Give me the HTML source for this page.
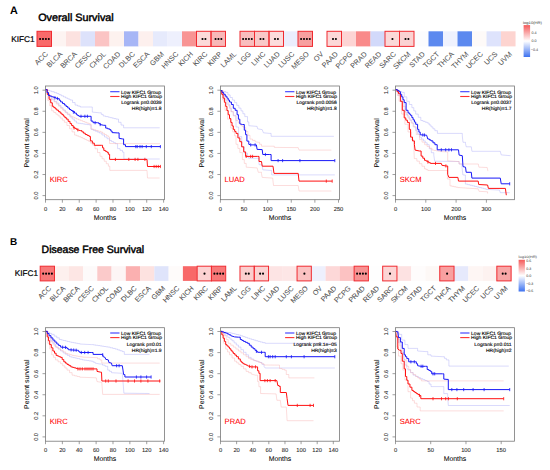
<!DOCTYPE html>
<html><head><meta charset="utf-8"><style>html,body{margin:0;padding:0;background:#fff;width:550px;height:470px;overflow:hidden;position:relative}</style></head><body>
<svg width="550" height="470" viewBox="0 0 550 470" style="position:absolute;left:0;top:0;font-family:'Liberation Sans', sans-serif" text-rendering="geometricPrecision">
<rect width="550" height="470" fill="#fff"/>
<defs><linearGradient id="gA" x1="0" y1="0" x2="0" y2="1"><stop offset="0" stop-color="#f55a5a"/><stop offset="0.5" stop-color="#ffffff"/><stop offset="1" stop-color="#3d72f0"/></linearGradient></defs>
<text x="10" y="14" font-size="10.8" fill="#000" text-anchor="start" font-weight="bold" >A</text>
<text x="38.2" y="20.9" font-size="10.6" fill="#000" text-anchor="start" font-weight="normal" textLength="75.5" lengthAdjust="spacingAndGlyphs" stroke="#000" stroke-width="0.45">Overall Survival</text>
<text x="11.2" y="41.7" font-size="8.3" fill="#000" text-anchor="start" font-weight="normal" stroke="#000" stroke-width="0.2">KIFC1</text>
<rect x="37" y="31.3" width="14.55" height="15.1" fill="#f96a6a"/>
<rect x="51.5" y="31.3" width="14.55" height="15.1" fill="#fdf4f2"/>
<rect x="66" y="31.3" width="14.55" height="15.1" fill="#fce2e0"/>
<rect x="80.5" y="31.3" width="14.55" height="15.1" fill="#dde2fb"/>
<rect x="95" y="31.3" width="14.55" height="15.1" fill="#fbc4c4"/>
<rect x="109.5" y="31.3" width="14.55" height="15.1" fill="#fdf2ef"/>
<rect x="124" y="31.3" width="14.55" height="15.1" fill="#a7b6f6"/>
<rect x="138.5" y="31.3" width="14.55" height="15.1" fill="#fdf0ee"/>
<rect x="153" y="31.3" width="14.55" height="15.1" fill="#e6eafc"/>
<rect x="167.5" y="31.3" width="14.55" height="15.1" fill="#eef0fd"/>
<rect x="182" y="31.3" width="14.55" height="15.1" fill="#f89494"/>
<rect x="196.5" y="31.3" width="14.55" height="15.1" fill="#fcdada"/>
<rect x="211" y="31.3" width="14.55" height="15.1" fill="#f8b8b8"/>
<rect x="225.5" y="31.3" width="14.55" height="15.1" fill="#ffffff"/>
<rect x="240" y="31.3" width="14.55" height="15.1" fill="#f9bebe"/>
<rect x="254.5" y="31.3" width="14.55" height="15.1" fill="#f9c8c8"/>
<rect x="269" y="31.3" width="14.55" height="15.1" fill="#fcdcdc"/>
<rect x="283.5" y="31.3" width="14.55" height="15.1" fill="#ebeefd"/>
<rect x="298" y="31.3" width="14.55" height="15.1" fill="#f7a0a0"/>
<rect x="312.5" y="31.3" width="14.55" height="15.1" fill="#ffffff"/>
<rect x="327" y="31.3" width="14.55" height="15.1" fill="#fcd8d8"/>
<rect x="341.5" y="31.3" width="14.55" height="15.1" fill="#fdd4d4"/>
<rect x="356" y="31.3" width="14.55" height="15.1" fill="#f98a8a"/>
<rect x="370.5" y="31.3" width="14.55" height="15.1" fill="#d2d9fa"/>
<rect x="385" y="31.3" width="14.55" height="15.1" fill="#fbd8d8"/>
<rect x="399.5" y="31.3" width="14.55" height="15.1" fill="#fbd2d2"/>
<rect x="414" y="31.3" width="14.55" height="15.1" fill="#fbfcfe"/>
<rect x="428.5" y="31.3" width="14.55" height="15.1" fill="#5c89ef"/>
<rect x="443" y="31.3" width="14.55" height="15.1" fill="#eff2fe"/>
<rect x="457.5" y="31.3" width="14.55" height="15.1" fill="#5c89ef"/>
<rect x="472" y="31.3" width="14.55" height="15.1" fill="#fefaf8"/>
<rect x="486.5" y="31.3" width="14.55" height="15.1" fill="#dee3fc"/>
<rect x="501" y="31.3" width="14.55" height="15.1" fill="#fdd4d0"/>
<rect x="37" y="31.3" width="14.5" height="15.1" fill="none" stroke="#f02a30" stroke-width="1.0"/>
<circle cx="40.1" cy="38.95" r="1.05" fill="#000"/>
<circle cx="43" cy="38.95" r="1.05" fill="#000"/>
<circle cx="45.9" cy="38.95" r="1.05" fill="#000"/>
<circle cx="48.8" cy="38.95" r="1.05" fill="#000"/>
<rect x="196.5" y="31.3" width="14.5" height="15.1" fill="none" stroke="#f02a30" stroke-width="1.0"/>
<circle cx="202.5" cy="38.95" r="1.05" fill="#000"/>
<circle cx="205.4" cy="38.95" r="1.05" fill="#000"/>
<rect x="211" y="31.3" width="14.5" height="15.1" fill="none" stroke="#f02a30" stroke-width="1.0"/>
<circle cx="215.55" cy="38.95" r="1.05" fill="#000"/>
<circle cx="218.45" cy="38.95" r="1.05" fill="#000"/>
<circle cx="221.35" cy="38.95" r="1.05" fill="#000"/>
<rect x="240" y="31.3" width="14.5" height="15.1" fill="none" stroke="#f02a30" stroke-width="1.0"/>
<circle cx="243.1" cy="38.95" r="1.05" fill="#000"/>
<circle cx="246" cy="38.95" r="1.05" fill="#000"/>
<circle cx="248.9" cy="38.95" r="1.05" fill="#000"/>
<circle cx="251.8" cy="38.95" r="1.05" fill="#000"/>
<rect x="254.5" y="31.3" width="14.5" height="15.1" fill="none" stroke="#f02a30" stroke-width="1.0"/>
<circle cx="260.5" cy="38.95" r="1.05" fill="#000"/>
<circle cx="263.4" cy="38.95" r="1.05" fill="#000"/>
<rect x="269" y="31.3" width="14.5" height="15.1" fill="none" stroke="#f02a30" stroke-width="1.0"/>
<circle cx="275" cy="38.95" r="1.05" fill="#000"/>
<circle cx="277.9" cy="38.95" r="1.05" fill="#000"/>
<rect x="298" y="31.3" width="14.5" height="15.1" fill="none" stroke="#f02a30" stroke-width="1.0"/>
<circle cx="301.1" cy="38.95" r="1.05" fill="#000"/>
<circle cx="304" cy="38.95" r="1.05" fill="#000"/>
<circle cx="306.9" cy="38.95" r="1.05" fill="#000"/>
<circle cx="309.8" cy="38.95" r="1.05" fill="#000"/>
<rect x="327" y="31.3" width="14.5" height="15.1" fill="none" stroke="#f02a30" stroke-width="1.0"/>
<circle cx="333" cy="38.95" r="1.05" fill="#000"/>
<circle cx="335.9" cy="38.95" r="1.05" fill="#000"/>
<rect x="385" y="31.3" width="14.5" height="15.1" fill="none" stroke="#f02a30" stroke-width="1.0"/>
<circle cx="392.45" cy="38.95" r="1.05" fill="#000"/>
<rect x="399.5" y="31.3" width="14.5" height="15.1" fill="none" stroke="#f02a30" stroke-width="1.0"/>
<circle cx="405.5" cy="38.95" r="1.05" fill="#000"/>
<circle cx="408.4" cy="38.95" r="1.05" fill="#000"/>
<text x="48.45" y="54.6" font-size="7.25" fill="#505050" stroke="#505050" stroke-width="0.06" text-anchor="end" transform="rotate(-45 48.45 54.6)">ACC</text>
<text x="62.95" y="54.6" font-size="7.25" fill="#505050" stroke="#505050" stroke-width="0.06" text-anchor="end" transform="rotate(-45 62.95 54.6)">BLCA</text>
<text x="77.45" y="54.6" font-size="7.25" fill="#505050" stroke="#505050" stroke-width="0.06" text-anchor="end" transform="rotate(-45 77.45 54.6)">BRCA</text>
<text x="91.95" y="54.6" font-size="7.25" fill="#505050" stroke="#505050" stroke-width="0.06" text-anchor="end" transform="rotate(-45 91.95 54.6)">CESC</text>
<text x="106.45" y="54.6" font-size="7.25" fill="#505050" stroke="#505050" stroke-width="0.06" text-anchor="end" transform="rotate(-45 106.45 54.6)">CHOL</text>
<text x="120.95" y="54.6" font-size="7.25" fill="#505050" stroke="#505050" stroke-width="0.06" text-anchor="end" transform="rotate(-45 120.95 54.6)">COAD</text>
<text x="135.45" y="54.6" font-size="7.25" fill="#505050" stroke="#505050" stroke-width="0.06" text-anchor="end" transform="rotate(-45 135.45 54.6)">DLBC</text>
<text x="149.95" y="54.6" font-size="7.25" fill="#505050" stroke="#505050" stroke-width="0.06" text-anchor="end" transform="rotate(-45 149.95 54.6)">ESCA</text>
<text x="164.45" y="54.6" font-size="7.25" fill="#505050" stroke="#505050" stroke-width="0.06" text-anchor="end" transform="rotate(-45 164.45 54.6)">GBM</text>
<text x="178.95" y="54.6" font-size="7.25" fill="#505050" stroke="#505050" stroke-width="0.06" text-anchor="end" transform="rotate(-45 178.95 54.6)">HNSC</text>
<text x="193.45" y="54.6" font-size="7.25" fill="#505050" stroke="#505050" stroke-width="0.06" text-anchor="end" transform="rotate(-45 193.45 54.6)">KICH</text>
<text x="207.95" y="54.6" font-size="7.25" fill="#505050" stroke="#505050" stroke-width="0.06" text-anchor="end" transform="rotate(-45 207.95 54.6)">KIRC</text>
<text x="222.45" y="54.6" font-size="7.25" fill="#505050" stroke="#505050" stroke-width="0.06" text-anchor="end" transform="rotate(-45 222.45 54.6)">KIRP</text>
<text x="236.95" y="54.6" font-size="7.25" fill="#505050" stroke="#505050" stroke-width="0.06" text-anchor="end" transform="rotate(-45 236.95 54.6)">LAML</text>
<text x="251.45" y="54.6" font-size="7.25" fill="#505050" stroke="#505050" stroke-width="0.06" text-anchor="end" transform="rotate(-45 251.45 54.6)">LGG</text>
<text x="265.95" y="54.6" font-size="7.25" fill="#505050" stroke="#505050" stroke-width="0.06" text-anchor="end" transform="rotate(-45 265.95 54.6)">LIHC</text>
<text x="280.45" y="54.6" font-size="7.25" fill="#505050" stroke="#505050" stroke-width="0.06" text-anchor="end" transform="rotate(-45 280.45 54.6)">LUAD</text>
<text x="294.95" y="54.6" font-size="7.25" fill="#505050" stroke="#505050" stroke-width="0.06" text-anchor="end" transform="rotate(-45 294.95 54.6)">LUSC</text>
<text x="309.45" y="54.6" font-size="7.25" fill="#505050" stroke="#505050" stroke-width="0.06" text-anchor="end" transform="rotate(-45 309.45 54.6)">MESO</text>
<text x="323.95" y="54.6" font-size="7.25" fill="#505050" stroke="#505050" stroke-width="0.06" text-anchor="end" transform="rotate(-45 323.95 54.6)">OV</text>
<text x="338.45" y="54.6" font-size="7.25" fill="#505050" stroke="#505050" stroke-width="0.06" text-anchor="end" transform="rotate(-45 338.45 54.6)">PAAD</text>
<text x="352.95" y="54.6" font-size="7.25" fill="#505050" stroke="#505050" stroke-width="0.06" text-anchor="end" transform="rotate(-45 352.95 54.6)">PCPG</text>
<text x="367.45" y="54.6" font-size="7.25" fill="#505050" stroke="#505050" stroke-width="0.06" text-anchor="end" transform="rotate(-45 367.45 54.6)">PRAD</text>
<text x="381.95" y="54.6" font-size="7.25" fill="#505050" stroke="#505050" stroke-width="0.06" text-anchor="end" transform="rotate(-45 381.95 54.6)">READ</text>
<text x="396.45" y="54.6" font-size="7.25" fill="#505050" stroke="#505050" stroke-width="0.06" text-anchor="end" transform="rotate(-45 396.45 54.6)">SARC</text>
<text x="410.95" y="54.6" font-size="7.25" fill="#505050" stroke="#505050" stroke-width="0.06" text-anchor="end" transform="rotate(-45 410.95 54.6)">SKCM</text>
<text x="425.45" y="54.6" font-size="7.25" fill="#505050" stroke="#505050" stroke-width="0.06" text-anchor="end" transform="rotate(-45 425.45 54.6)">STAD</text>
<text x="439.95" y="54.6" font-size="7.25" fill="#505050" stroke="#505050" stroke-width="0.06" text-anchor="end" transform="rotate(-45 439.95 54.6)">TGCT</text>
<text x="454.45" y="54.6" font-size="7.25" fill="#505050" stroke="#505050" stroke-width="0.06" text-anchor="end" transform="rotate(-45 454.45 54.6)">THCA</text>
<text x="468.95" y="54.6" font-size="7.25" fill="#505050" stroke="#505050" stroke-width="0.06" text-anchor="end" transform="rotate(-45 468.95 54.6)">THYM</text>
<text x="483.45" y="54.6" font-size="7.25" fill="#505050" stroke="#505050" stroke-width="0.06" text-anchor="end" transform="rotate(-45 483.45 54.6)">UCEC</text>
<text x="497.95" y="54.6" font-size="7.25" fill="#505050" stroke="#505050" stroke-width="0.06" text-anchor="end" transform="rotate(-45 497.95 54.6)">UCS</text>
<text x="512.45" y="54.6" font-size="7.25" fill="#505050" stroke="#505050" stroke-width="0.06" text-anchor="end" transform="rotate(-45 512.45 54.6)">UVM</text>
<rect x="523.6" y="25.1" width="6.5" height="31.9" fill="url(#gA)"/>
<text x="523" y="23.8" font-size="3.6" fill="#333" text-anchor="start" font-weight="normal" textLength="19" lengthAdjust="spacingAndGlyphs" >log10(HR)</text>
<text x="531.5" y="33.9" font-size="3.7" fill="#333" text-anchor="start" font-weight="normal" >0.4</text>
<text x="531.5" y="42.3" font-size="3.7" fill="#333" text-anchor="start" font-weight="normal" >0.0</text>
<text x="530.8" y="51.2" font-size="3.7" fill="#333" text-anchor="start" font-weight="normal" >&#8722;0.4</text>
<text x="10.1" y="245.2" font-size="10" fill="#000" text-anchor="start" font-weight="bold" >B</text>
<text x="41.6" y="252.6" font-size="10.6" fill="#000" text-anchor="start" font-weight="normal" textLength="102.5" lengthAdjust="spacingAndGlyphs" stroke="#000" stroke-width="0.45">Disease Free Survival</text>
<text x="14.8" y="276.4" font-size="8.2" fill="#000" text-anchor="start" font-weight="normal" stroke="#000" stroke-width="0.2">KIFC1</text>
<rect x="40.2" y="266.2" width="14.32" height="14.7" fill="#f87878"/>
<rect x="54.47" y="266.2" width="14.32" height="14.7" fill="#fdf0ee"/>
<rect x="68.74" y="266.2" width="14.32" height="14.7" fill="#fde6e4"/>
<rect x="83.01" y="266.2" width="14.32" height="14.7" fill="#fdfafa"/>
<rect x="97.28" y="266.2" width="14.32" height="14.7" fill="#fbcaca"/>
<rect x="111.55" y="266.2" width="14.32" height="14.7" fill="#fdf5f5"/>
<rect x="125.82" y="266.2" width="14.32" height="14.7" fill="#fbb0b0"/>
<rect x="140.09" y="266.2" width="14.32" height="14.7" fill="#fde2e0"/>
<rect x="154.36" y="266.2" width="14.32" height="14.7" fill="#dfe4fb"/>
<rect x="168.63" y="266.2" width="14.32" height="14.7" fill="#fefbfa"/>
<rect x="182.9" y="266.2" width="14.32" height="14.7" fill="#f86868"/>
<rect x="197.17" y="266.2" width="14.32" height="14.7" fill="#fcd2d2"/>
<rect x="211.44" y="266.2" width="14.32" height="14.7" fill="#f87878"/>
<rect x="225.71" y="266.2" width="14.32" height="14.7" fill="#ffffff"/>
<rect x="239.98" y="266.2" width="14.32" height="14.7" fill="#fbcece"/>
<rect x="254.25" y="266.2" width="14.32" height="14.7" fill="#fbd2d2"/>
<rect x="268.52" y="266.2" width="14.32" height="14.7" fill="#fde4e4"/>
<rect x="282.79" y="266.2" width="14.32" height="14.7" fill="#fde6e6"/>
<rect x="297.06" y="266.2" width="14.32" height="14.7" fill="#fbc2c2"/>
<rect x="311.33" y="266.2" width="14.32" height="14.7" fill="#eef0fd"/>
<rect x="325.6" y="266.2" width="14.32" height="14.7" fill="#fdd8d8"/>
<rect x="339.87" y="266.2" width="14.32" height="14.7" fill="#fcc2c2"/>
<rect x="354.14" y="266.2" width="14.32" height="14.7" fill="#f79292"/>
<rect x="368.41" y="266.2" width="14.32" height="14.7" fill="#fefefe"/>
<rect x="382.68" y="266.2" width="14.32" height="14.7" fill="#fcd4d4"/>
<rect x="396.95" y="266.2" width="14.32" height="14.7" fill="#fde2e2"/>
<rect x="411.22" y="266.2" width="14.32" height="14.7" fill="#fefcfc"/>
<rect x="425.49" y="266.2" width="14.32" height="14.7" fill="#fdf8f6"/>
<rect x="439.76" y="266.2" width="14.32" height="14.7" fill="#f8a0a0"/>
<rect x="454.03" y="266.2" width="14.32" height="14.7" fill="#e6e9fc"/>
<rect x="468.3" y="266.2" width="14.32" height="14.7" fill="#fef6f4"/>
<rect x="482.57" y="266.2" width="14.32" height="14.7" fill="#fdf2f0"/>
<rect x="496.84" y="266.2" width="14.32" height="14.7" fill="#f8a6a6"/>
<rect x="40.2" y="266.2" width="14.27" height="14.7" fill="none" stroke="#f02a30" stroke-width="1.0"/>
<circle cx="43.19" cy="273.65" r="1.05" fill="#000"/>
<circle cx="46.09" cy="273.65" r="1.05" fill="#000"/>
<circle cx="48.99" cy="273.65" r="1.05" fill="#000"/>
<circle cx="51.89" cy="273.65" r="1.05" fill="#000"/>
<rect x="197.17" y="266.2" width="14.27" height="14.7" fill="none" stroke="#f02a30" stroke-width="1.0"/>
<circle cx="204.5" cy="273.65" r="1.05" fill="#000"/>
<rect x="211.44" y="266.2" width="14.27" height="14.7" fill="none" stroke="#f02a30" stroke-width="1.0"/>
<circle cx="214.42" cy="273.65" r="1.05" fill="#000"/>
<circle cx="217.32" cy="273.65" r="1.05" fill="#000"/>
<circle cx="220.22" cy="273.65" r="1.05" fill="#000"/>
<circle cx="223.12" cy="273.65" r="1.05" fill="#000"/>
<rect x="239.98" y="266.2" width="14.27" height="14.7" fill="none" stroke="#f02a30" stroke-width="1.0"/>
<circle cx="245.87" cy="273.65" r="1.05" fill="#000"/>
<circle cx="248.76" cy="273.65" r="1.05" fill="#000"/>
<rect x="254.25" y="266.2" width="14.27" height="14.7" fill="none" stroke="#f02a30" stroke-width="1.0"/>
<circle cx="260.13" cy="273.65" r="1.05" fill="#000"/>
<circle cx="263.03" cy="273.65" r="1.05" fill="#000"/>
<rect x="297.06" y="266.2" width="14.27" height="14.7" fill="none" stroke="#f02a30" stroke-width="1.0"/>
<circle cx="304.39" cy="273.65" r="1.05" fill="#000"/>
<rect x="354.14" y="266.2" width="14.27" height="14.7" fill="none" stroke="#f02a30" stroke-width="1.0"/>
<circle cx="357.12" cy="273.65" r="1.05" fill="#000"/>
<circle cx="360.02" cy="273.65" r="1.05" fill="#000"/>
<circle cx="362.92" cy="273.65" r="1.05" fill="#000"/>
<circle cx="365.82" cy="273.65" r="1.05" fill="#000"/>
<rect x="382.68" y="266.2" width="14.27" height="14.7" fill="none" stroke="#f02a30" stroke-width="1.0"/>
<circle cx="390.01" cy="273.65" r="1.05" fill="#000"/>
<rect x="439.76" y="266.2" width="14.27" height="14.7" fill="none" stroke="#f02a30" stroke-width="1.0"/>
<circle cx="447.09" cy="273.65" r="1.05" fill="#000"/>
<rect x="496.84" y="266.2" width="14.27" height="14.7" fill="none" stroke="#f02a30" stroke-width="1.0"/>
<circle cx="502.72" cy="273.65" r="1.05" fill="#000"/>
<circle cx="505.62" cy="273.65" r="1.05" fill="#000"/>
<text x="51.54" y="288.8" font-size="7.1" fill="#505050" stroke="#505050" stroke-width="0.06" text-anchor="end" transform="rotate(-45 51.54 288.8)">ACC</text>
<text x="65.8" y="288.8" font-size="7.1" fill="#505050" stroke="#505050" stroke-width="0.06" text-anchor="end" transform="rotate(-45 65.8 288.8)">BLCA</text>
<text x="80.08" y="288.8" font-size="7.1" fill="#505050" stroke="#505050" stroke-width="0.06" text-anchor="end" transform="rotate(-45 80.08 288.8)">BRCA</text>
<text x="94.35" y="288.8" font-size="7.1" fill="#505050" stroke="#505050" stroke-width="0.06" text-anchor="end" transform="rotate(-45 94.35 288.8)">CESC</text>
<text x="108.62" y="288.8" font-size="7.1" fill="#505050" stroke="#505050" stroke-width="0.06" text-anchor="end" transform="rotate(-45 108.62 288.8)">CHOL</text>
<text x="122.89" y="288.8" font-size="7.1" fill="#505050" stroke="#505050" stroke-width="0.06" text-anchor="end" transform="rotate(-45 122.89 288.8)">COAD</text>
<text x="137.16" y="288.8" font-size="7.1" fill="#505050" stroke="#505050" stroke-width="0.06" text-anchor="end" transform="rotate(-45 137.16 288.8)">DLBC</text>
<text x="151.42" y="288.8" font-size="7.1" fill="#505050" stroke="#505050" stroke-width="0.06" text-anchor="end" transform="rotate(-45 151.42 288.8)">ESCA</text>
<text x="165.69" y="288.8" font-size="7.1" fill="#505050" stroke="#505050" stroke-width="0.06" text-anchor="end" transform="rotate(-45 165.69 288.8)">GBM</text>
<text x="179.96" y="288.8" font-size="7.1" fill="#505050" stroke="#505050" stroke-width="0.06" text-anchor="end" transform="rotate(-45 179.96 288.8)">HNSC</text>
<text x="194.23" y="288.8" font-size="7.1" fill="#505050" stroke="#505050" stroke-width="0.06" text-anchor="end" transform="rotate(-45 194.23 288.8)">KICH</text>
<text x="208.5" y="288.8" font-size="7.1" fill="#505050" stroke="#505050" stroke-width="0.06" text-anchor="end" transform="rotate(-45 208.5 288.8)">KIRC</text>
<text x="222.77" y="288.8" font-size="7.1" fill="#505050" stroke="#505050" stroke-width="0.06" text-anchor="end" transform="rotate(-45 222.77 288.8)">KIRP</text>
<text x="237.04" y="288.8" font-size="7.1" fill="#505050" stroke="#505050" stroke-width="0.06" text-anchor="end" transform="rotate(-45 237.04 288.8)">LAML</text>
<text x="251.31" y="288.8" font-size="7.1" fill="#505050" stroke="#505050" stroke-width="0.06" text-anchor="end" transform="rotate(-45 251.31 288.8)">LGG</text>
<text x="265.58" y="288.8" font-size="7.1" fill="#505050" stroke="#505050" stroke-width="0.06" text-anchor="end" transform="rotate(-45 265.58 288.8)">LIHC</text>
<text x="279.85" y="288.8" font-size="7.1" fill="#505050" stroke="#505050" stroke-width="0.06" text-anchor="end" transform="rotate(-45 279.85 288.8)">LUAD</text>
<text x="294.12" y="288.8" font-size="7.1" fill="#505050" stroke="#505050" stroke-width="0.06" text-anchor="end" transform="rotate(-45 294.12 288.8)">LUSC</text>
<text x="308.39" y="288.8" font-size="7.1" fill="#505050" stroke="#505050" stroke-width="0.06" text-anchor="end" transform="rotate(-45 308.39 288.8)">MESO</text>
<text x="322.66" y="288.8" font-size="7.1" fill="#505050" stroke="#505050" stroke-width="0.06" text-anchor="end" transform="rotate(-45 322.66 288.8)">OV</text>
<text x="336.93" y="288.8" font-size="7.1" fill="#505050" stroke="#505050" stroke-width="0.06" text-anchor="end" transform="rotate(-45 336.93 288.8)">PAAD</text>
<text x="351.2" y="288.8" font-size="7.1" fill="#505050" stroke="#505050" stroke-width="0.06" text-anchor="end" transform="rotate(-45 351.2 288.8)">PCPG</text>
<text x="365.47" y="288.8" font-size="7.1" fill="#505050" stroke="#505050" stroke-width="0.06" text-anchor="end" transform="rotate(-45 365.47 288.8)">PRAD</text>
<text x="379.74" y="288.8" font-size="7.1" fill="#505050" stroke="#505050" stroke-width="0.06" text-anchor="end" transform="rotate(-45 379.74 288.8)">READ</text>
<text x="394.01" y="288.8" font-size="7.1" fill="#505050" stroke="#505050" stroke-width="0.06" text-anchor="end" transform="rotate(-45 394.01 288.8)">SARC</text>
<text x="408.28" y="288.8" font-size="7.1" fill="#505050" stroke="#505050" stroke-width="0.06" text-anchor="end" transform="rotate(-45 408.28 288.8)">SKCM</text>
<text x="422.55" y="288.8" font-size="7.1" fill="#505050" stroke="#505050" stroke-width="0.06" text-anchor="end" transform="rotate(-45 422.55 288.8)">STAD</text>
<text x="436.82" y="288.8" font-size="7.1" fill="#505050" stroke="#505050" stroke-width="0.06" text-anchor="end" transform="rotate(-45 436.82 288.8)">TGCT</text>
<text x="451.09" y="288.8" font-size="7.1" fill="#505050" stroke="#505050" stroke-width="0.06" text-anchor="end" transform="rotate(-45 451.09 288.8)">THCA</text>
<text x="465.36" y="288.8" font-size="7.1" fill="#505050" stroke="#505050" stroke-width="0.06" text-anchor="end" transform="rotate(-45 465.36 288.8)">THYM</text>
<text x="479.63" y="288.8" font-size="7.1" fill="#505050" stroke="#505050" stroke-width="0.06" text-anchor="end" transform="rotate(-45 479.63 288.8)">UCEC</text>
<text x="493.9" y="288.8" font-size="7.1" fill="#505050" stroke="#505050" stroke-width="0.06" text-anchor="end" transform="rotate(-45 493.9 288.8)">UCS</text>
<text x="508.17" y="288.8" font-size="7.1" fill="#505050" stroke="#505050" stroke-width="0.06" text-anchor="end" transform="rotate(-45 508.17 288.8)">UVM</text>
<rect x="518.6" y="259.8" width="6.3" height="31.7" fill="url(#gA)"/>
<text x="518.6" y="258.2" font-size="3.4" fill="#333" text-anchor="start" font-weight="normal" textLength="18.3" lengthAdjust="spacingAndGlyphs" >log10(HR)</text>
<text x="526.2" y="262.2" font-size="3.6" fill="#333" text-anchor="start" font-weight="normal" >0.6</text>
<text x="526.2" y="269.6" font-size="3.6" fill="#333" text-anchor="start" font-weight="normal" >0.3</text>
<text x="526.2" y="277.2" font-size="3.6" fill="#333" text-anchor="start" font-weight="normal" >0.0</text>
<text x="526.2" y="284.6" font-size="3.6" fill="#333" text-anchor="start" font-weight="normal" >&#8722;0.3</text>
<text x="526.2" y="292.2" font-size="3.6" fill="#333" text-anchor="start" font-weight="normal" >&#8722;0.6</text>
<polyline points="45.5,89.6 47.57,89.6 47.57,90.3 49.63,90.3 49.63,91 51.7,91 51.7,91.7 54.25,91.7 54.25,92.65 56.8,92.65 56.8,93.6 59.02,93.6 59.02,94.7 61.25,94.7 61.25,95.8 63.48,95.8 63.48,96.9 65.7,96.9 65.7,98 67.85,98 67.85,99 70,99 70,100 72.55,100 72.55,102.55 75.1,102.55 75.1,105.1 77.65,105.1 77.65,106.05 80.2,106.05 80.2,107 89.1,107 92.3,107 92.3,112.1 99.4,112.8 101.3,112.8 101.3,114.4 103.2,114.4 103.2,116 105.75,116 105.75,116.6 108.3,116.6 108.3,117.2 110.22,117.2 110.22,117.67 112.15,117.67 112.15,118.15 114.08,118.15 114.08,118.62 116,118.62 116,119.1 118.5,119.1 118.5,122.3 121.05,122.3 121.05,125.05 123.6,125.05 123.6,127.8 159.7,127.8" fill="none" stroke="#aaaaf8" stroke-width="0.55" stroke-opacity="0.8"/>
<polyline points="45.5,89.6 47.3,89.6 47.3,93.8 49.1,93.8 49.1,98 51.67,98 51.67,99.7 54.23,99.7 54.23,101.4 56.8,101.4 56.8,103.1 58.9,103.1 58.9,105.4 61,105.4 61,107.7 63.1,107.7 63.1,110 65.4,110 65.4,112.33 67.7,112.33 67.7,114.67 70,114.67 70,117 72.13,117 72.13,119 74.27,119 74.27,121 76.4,121 76.4,123 78.52,123 78.52,123.32 80.63,123.32 80.63,123.63 82.75,123.63 82.75,123.95 84.87,123.95 84.87,124.27 86.98,124.27 86.98,124.58 89.1,124.58 89.1,124.9 91.1,124.9 91.1,129.4 93.17,129.4 93.17,130.3 95.25,130.3 95.25,131.2 97.33,131.2 97.33,132.1 99.4,132.1 99.4,133 101.95,133 101.95,135 104.5,135 104.5,137 107.05,137 107.05,138.75 109.6,138.75 109.6,140.5 111.53,140.5 111.53,141.57 113.47,141.57 113.47,142.63 115.4,142.63 115.4,143.7 117.6,143.7 117.6,148.6 120.05,148.6 120.05,150.35 122.5,150.35 122.5,152.1 123.9,152.1 123.9,159 159.7,159" fill="none" stroke="#aaaaf8" stroke-width="0.55" stroke-opacity="0.8"/>
<polyline points="45.5,89.6 47.3,89.6 47.3,92.55 49.1,92.55 49.1,95.5 51.65,95.5 51.65,98.7 54.2,98.7 54.2,101.9 56.33,101.9 56.33,104.03 58.47,104.03 58.47,106.17 60.6,106.17 60.6,108.3 62.73,108.3 62.73,110.2 64.87,110.2 64.87,112.1 67,112.1 67,114 70,114 70,116 72.13,116 72.13,117 74.27,117 74.27,118 76.4,118 76.4,119 78.52,119 78.52,119.83 80.63,119.83 80.63,120.67 82.75,120.67 82.75,121.5 84.87,121.5 84.87,122.33 86.98,122.33 86.98,123.17 89.1,123.17 89.1,124 91,124 91,129 93.4,129 93.4,129.75 95.8,129.75 95.8,130.5 98.2,130.5 98.2,131.25 100.6,131.25 100.6,132 102.52,132 102.52,133.25 104.45,133.25 104.45,134.5 106.38,134.5 106.38,135.75 108.3,135.75 108.3,137 109.6,137 109.6,143.5 160,143.7" fill="none" stroke="#f8b0b0" stroke-width="0.55" stroke-opacity="0.8"/>
<polyline points="45.5,89.6 47.8,89.6 47.8,100.6 49.75,100.6 49.75,105.7 51.7,105.7 51.7,110.8 53.8,110.8 53.8,112.5 55.9,112.5 55.9,114.2 58,114.2 58,115.9 60.13,115.9 60.13,118.03 62.27,118.03 62.27,120.17 64.4,120.17 64.4,122.3 66.95,122.3 66.95,125.5 69.5,125.5 69.5,128.7 72.05,128.7 72.05,131.9 74.6,131.9 74.6,135.1 76.73,135.1 76.73,135.93 78.87,135.93 78.87,136.77 81,136.77 81,137.6 82.92,137.6 82.92,138.55 84.85,138.55 84.85,139.5 86.78,139.5 86.78,140.45 88.7,140.45 88.7,141.4 90.6,141.4 90.6,143.2 92.5,143.2 92.5,145 95,145 95,148.77 97.5,148.77 97.5,152.53 100,152.53 100,156.3 102.1,156.3 102.1,158.78 104.2,158.78 104.2,161.25 106.3,161.25 106.3,163.72 108.4,163.72 108.4,166.2 109.8,166.2 109.8,170.4 147,170.4 147.5,178 159.6,178" fill="none" stroke="#f8b0b0" stroke-width="0.55" stroke-opacity="0.8"/>
<polyline points="45.5,89.6 47.3,89.6 47.3,94.45 49.1,94.45 49.1,99.3 50.7,99.3 50.7,102.8 52.3,102.8 52.3,106.3 53.8,106.3 53.8,107.6 55.3,107.6 55.3,108.9 56.8,108.9 56.8,110.2 58.5,110.2 58.5,111.67 60.2,111.67 60.2,113.13 61.9,113.13 61.9,114.6 63.37,114.6 63.37,116.1 64.83,116.1 64.83,117.6 66.3,117.6 66.3,119.1 68.15,119.1 68.15,121.35 70,121.35 70,123.6 71.6,123.6 71.6,125.5 73.2,125.5 73.2,127.4 74.8,127.4 74.8,128.4 76.4,128.4 76.4,129.4 80.2,130.6 81.9,130.6 81.9,131.9 83.6,131.9 83.6,133.2 85.3,133.2 85.3,134.5 87.2,134.5 87.2,135.45 89.1,135.45 89.1,136.4 90.4,136.4 90.4,140.9 92.35,140.9 92.35,143.1 94.3,143.1 94.3,145.3 101.3,145.3 102.55,145.3 102.55,147.85 103.8,147.85 103.8,150.4 105.4,150.4 105.4,151.35 107,151.35 107,152.3 108.3,152.3 108.3,154.25 109.6,154.25 109.6,156.2 109.6,159.4 147,159.4 147.5,166.5 160.4,166.5" fill="none" stroke="#ff1010" stroke-width="1.0"/>
<polyline points="45.5,89.6 47,89.6 47,92.55 48.5,92.55 48.5,95.5 50.1,95.5 50.1,96.15 51.7,96.15 51.7,96.8 53.6,96.8 53.6,97.4 55.5,97.4 55.5,98 58,98.7 59.3,98.7 59.3,100.3 60.6,100.3 60.6,101.9 62.5,101.9 62.5,103.45 64.4,103.45 64.4,105 66.1,105 66.1,106.5 67.8,106.5 67.8,108 69.5,108 69.5,109.5 71.05,109.5 71.05,110.5 72.6,110.5 72.6,111.5 74.5,111.5 74.5,113.1 76.4,113.1 76.4,114.7 77.65,114.7 77.65,115.5 78.9,115.5 78.9,116.3 89.1,116.3 91.1,116.3 91.1,121.1 93,121.1 93,122.7 97.4,122.7 98.7,122.7 98.7,123.6 100,123.6 100,124.5 103.8,125.3 105.7,125.3 105.7,128.1 107.65,128.1 107.65,128.85 109.6,128.85 109.6,129.6 110.85,129.6 110.85,131.1 112.1,131.1 112.1,132.6 117.2,132.9 119.1,132.9 119.1,138.3 122.3,138.9 123.6,138.9 123.6,144.7 125.5,144.7 125.5,146.6 160.4,146.6" fill="none" stroke="#1818f8" stroke-width="1.0"/>
<path d="M74 126.3v3.2M77.8 128.24v3.2M115.4 157.8v3.2M128.8 157.8v3.2M135.1 157.8v3.2M137.9 157.8v3.2M144.9 157.8v3.2M154.1 164.9v3.2M156.2 164.9v3.2M158.3 164.9v3.2M160.4 164.9v3.2" stroke="#ff1010" stroke-width="0.8" fill="none"/>
<path d="M54.9 96.21v3.2M57.4 96.93v3.2M73.4 110.57v3.2M81 114.7v3.2M84.9 114.7v3.2M87.4 114.7v3.2M95.1 121.1v3.2M100.2 122.94v3.2M135.8 145v3.2M137.2 145v3.2M140 145v3.2M142.1 145v3.2M146.3 145v3.2M151.3 145v3.2M160.4 145v3.2" stroke="#1818f8" stroke-width="0.8" fill="none"/>
<rect x="45.5" y="86" width="118.9" height="113.7" fill="none" stroke="#777" stroke-width="0.8"/>
<line x1="42.5" y1="195.6" x2="45.5" y2="195.6" stroke="#777" stroke-width="0.7"/>
<text x="38.3" y="195.6" font-size="5.7" fill="#222" stroke="#222" stroke-width="0.07" text-anchor="middle" transform="rotate(-90 38.3 195.6)">0.0</text>
<line x1="42.5" y1="174.52" x2="45.5" y2="174.52" stroke="#777" stroke-width="0.7"/>
<text x="38.3" y="174.52" font-size="5.7" fill="#222" stroke="#222" stroke-width="0.07" text-anchor="middle" transform="rotate(-90 38.3 174.52)">0.2</text>
<line x1="42.5" y1="153.44" x2="45.5" y2="153.44" stroke="#777" stroke-width="0.7"/>
<text x="38.3" y="153.44" font-size="5.7" fill="#222" stroke="#222" stroke-width="0.07" text-anchor="middle" transform="rotate(-90 38.3 153.44)">0.4</text>
<line x1="42.5" y1="132.36" x2="45.5" y2="132.36" stroke="#777" stroke-width="0.7"/>
<text x="38.3" y="132.36" font-size="5.7" fill="#222" stroke="#222" stroke-width="0.07" text-anchor="middle" transform="rotate(-90 38.3 132.36)">0.6</text>
<line x1="42.5" y1="111.28" x2="45.5" y2="111.28" stroke="#777" stroke-width="0.7"/>
<text x="38.3" y="111.28" font-size="5.7" fill="#222" stroke="#222" stroke-width="0.07" text-anchor="middle" transform="rotate(-90 38.3 111.28)">0.8</text>
<line x1="42.5" y1="90.2" x2="45.5" y2="90.2" stroke="#777" stroke-width="0.7"/>
<text x="38.3" y="90.2" font-size="5.7" fill="#222" stroke="#222" stroke-width="0.07" text-anchor="middle" transform="rotate(-90 38.3 90.2)">1.0</text>
<line x1="45.5" y1="199.7" x2="45.5" y2="202.7" stroke="#777" stroke-width="0.7"/>
<text x="45.5" y="210.9" font-size="5.8" fill="#222" stroke="#222" stroke-width="0.07" text-anchor="middle">0</text>
<line x1="62.37" y1="199.7" x2="62.37" y2="202.7" stroke="#777" stroke-width="0.7"/>
<text x="62.37" y="210.9" font-size="5.8" fill="#222" stroke="#222" stroke-width="0.07" text-anchor="middle">20</text>
<line x1="79.24" y1="199.7" x2="79.24" y2="202.7" stroke="#777" stroke-width="0.7"/>
<text x="79.24" y="210.9" font-size="5.8" fill="#222" stroke="#222" stroke-width="0.07" text-anchor="middle">40</text>
<line x1="96.11" y1="199.7" x2="96.11" y2="202.7" stroke="#777" stroke-width="0.7"/>
<text x="96.11" y="210.9" font-size="5.8" fill="#222" stroke="#222" stroke-width="0.07" text-anchor="middle">60</text>
<line x1="112.99" y1="199.7" x2="112.99" y2="202.7" stroke="#777" stroke-width="0.7"/>
<text x="112.99" y="210.9" font-size="5.8" fill="#222" stroke="#222" stroke-width="0.07" text-anchor="middle">80</text>
<line x1="129.86" y1="199.7" x2="129.86" y2="202.7" stroke="#777" stroke-width="0.7"/>
<text x="129.86" y="210.9" font-size="5.8" fill="#222" stroke="#222" stroke-width="0.07" text-anchor="middle">100</text>
<line x1="146.73" y1="199.7" x2="146.73" y2="202.7" stroke="#777" stroke-width="0.7"/>
<text x="146.73" y="210.9" font-size="5.8" fill="#222" stroke="#222" stroke-width="0.07" text-anchor="middle">120</text>
<line x1="163.6" y1="199.7" x2="163.6" y2="202.7" stroke="#777" stroke-width="0.7"/>
<text x="163.6" y="210.9" font-size="5.8" fill="#222" stroke="#222" stroke-width="0.07" text-anchor="middle">140</text>
<text x="29.1" y="142.9" font-size="6.95" fill="#000" stroke="#000" stroke-width="0.05" text-anchor="middle" transform="rotate(-90 29.1 142.9)">Percent survival</text>
<text x="104.95" y="219.6" font-size="6.9" fill="#000" stroke="#000" stroke-width="0.05" text-anchor="middle">Months</text>
<line x1="110.2" y1="91.7" x2="119.5" y2="91.7" stroke="#3a3aff" stroke-width="1.1"/>
<line x1="110.2" y1="96.5" x2="119.5" y2="96.5" stroke="#ff3030" stroke-width="1.1"/>
<text transform="translate(121.1 93.5) scale(1.04 1)" font-size="4.8" fill="#000" text-anchor="start" font-weight="normal" stroke="#000" stroke-width="0.13">Low KIFC1 Group</text>
<text transform="translate(121.1 98.3) scale(1.04 1)" font-size="4.8" fill="#000" text-anchor="start" font-weight="normal" stroke="#000" stroke-width="0.13">High KIFC1 Group</text>
<text transform="translate(161.6 103.9) scale(1.04 1)" font-size="4.8" fill="#000" text-anchor="end" font-weight="normal" stroke="#000" stroke-width="0.13">Logrank p=0.0039</text>
<text transform="translate(161.6 109.6) scale(1.04 1)" font-size="4.8" fill="#000" text-anchor="end" font-weight="normal" stroke="#000" stroke-width="0.13">HR(high)=1.8</text>
<text x="49.7" y="182.2" font-size="7.6" fill="#ff0000" text-anchor="start" font-weight="normal" stroke="#ff0000" stroke-width="0.06">KIRC</text>
<polyline points="220.4,90.6 223.05,90.6 223.05,91.5 225.7,91.5 225.7,92.4 227.92,92.4 227.92,94.95 230.15,94.95 230.15,97.5 232.38,97.5 232.38,100.05 234.6,100.05 234.6,102.6 236.73,102.6 236.73,105.37 238.87,105.37 238.87,108.13 241,108.13 241,110.9 242.9,110.9 242.9,113.75 244.8,113.75 244.8,116.6 247.5,116.6 247.5,121.9 248.8,121.9 248.8,125.7 257.1,126.4 257.7,128.9 262.2,129.6 263.4,132.8 269.8,133.4 271.1,133.4 271.1,136.3 333.9,136.3" fill="none" stroke="#aaaaf8" stroke-width="0.55" stroke-opacity="0.8"/>
<polyline points="220.4,90.6 222.4,90.6 222.4,95.3 224.4,95.3 224.4,100 226.95,100 226.95,104.15 229.5,104.15 229.5,108.3 231.4,108.3 231.4,111.85 233.3,111.85 233.3,115.4 236,115.4 236,127 238.6,127 238.6,136.6 241.7,136.6 241.7,146.8 244.3,146.8 244.3,153.2 247.5,153.2 247.5,157 248.8,157 248.8,158.3 257.7,158.3 259,158.3 259,164.7 262.2,164.7 262.2,166 262.8,169.8 269.8,170.4 271.7,170.4 271.7,174.9 334.8,174.9" fill="none" stroke="#aaaaf8" stroke-width="0.55" stroke-opacity="0.8"/>
<polyline points="220.4,90.6 223.05,90.6 223.05,95.3 225.7,95.3 225.7,100 228.25,100 228.25,105.75 230.8,105.75 230.8,111.5 233.35,111.5 233.35,116 235.9,116 235.9,120.5 238.1,120.5 238.1,122.75 240.3,122.75 240.3,125 242,125 242,126.35 243.7,126.35 243.7,127.7 245.8,127.7 245.8,131.5 247.9,131.5 247.9,135.3 250,135.3 250,139.1 252.55,139.1 252.55,140.4 255.1,140.4 255.1,141.7 258.3,142.3 259.6,142.3 259.6,144.3 261.5,144.3 261.5,146.2 273,146.2 274.3,146.2 274.3,147.4 298.2,147.6 299,150.1 331.4,150.1" fill="none" stroke="#f8b0b0" stroke-width="0.55" stroke-opacity="0.8"/>
<polyline points="220.4,90.6 222.5,90.6 222.5,100 225,100 225,110.3 227.6,110.3 227.6,119.2 230.8,119.2 230.8,128.1 232.7,128.1 232.7,131.95 234.6,131.95 234.6,135.8 236,135.8 236,144.3 237.9,144.3 237.9,148.45 239.8,148.45 239.8,152.6 242.4,152.6 242.4,159.6 244.3,159.6 244.3,163.4 246.2,163.4 246.2,167.2 257.1,167.9 258.3,172.3 261.5,172.3 261.5,173.6 262.2,177.4 272.7,178.1 273.5,185.5 298.2,185.5 299,191 331.4,191" fill="none" stroke="#f8b0b0" stroke-width="0.55" stroke-opacity="0.8"/>
<polyline points="220.4,90.6 221.75,90.6 221.75,94.35 223.1,94.35 223.1,98.1 224.4,98.1 224.4,102.25 225.7,102.25 225.7,106.4 226.95,106.4 226.95,110.55 228.2,110.55 228.2,114.7 229.5,114.7 229.5,118.55 230.8,118.55 230.8,122.4 232.05,122.4 232.05,125.9 233.3,125.9 233.3,129.4 234.65,129.4 234.65,131.4 236,131.4 236,133.4 237.9,133.4 237.9,137.9 239.8,137.9 239.8,141.7 241.7,141.7 241.7,146.8 243.7,146.8 243.7,151.9 245.6,151.9 245.6,156.4 257.7,156.4 259,156.4 259,161.5 261.5,161.5 262.2,166.2 273,166.2 274,173.4 298.2,173.4 299,181.1 332.2,181.1" fill="none" stroke="#ff1010" stroke-width="1.0"/>
<polyline points="220.4,90.6 222.05,90.6 222.05,92.45 223.7,92.45 223.7,94.3 225.3,94.3 225.3,96.2 226.9,96.2 226.9,98.1 228.2,98.1 228.2,100.05 229.5,100.05 229.5,102 231.4,102 231.4,104.5 233.3,104.5 233.3,108.3 235.2,108.3 235.2,110.3 237.1,110.3 237.1,114.7 238.4,114.7 238.4,119.2 239.8,119.2 239.8,123.8 242.4,124.5 244.3,124.5 244.3,130.2 245.6,130.2 245.6,134.7 246.9,134.7 246.9,141.1 248.8,141.1 248.8,144.3 250.7,144.9 256.4,144.9 257.1,149.4 262.2,149.6 262.8,154.5 269.8,154.5 271.1,154.5 271.1,160.6 334.8,160.6" fill="none" stroke="#1818f8" stroke-width="1.0"/>
<path d="M246.2 154.8v3.2M250.7 154.8v3.2M252.6 154.8v3.2M326.3 179.5v3.2M332.2 179.5v3.2" stroke="#ff1010" stroke-width="0.8" fill="none"/>
<path d="M250.7 143.3v3.2M255.1 143.3v3.2M265.4 152.9v3.2M278.1 159v3.2M282.6 159v3.2M299.9 159v3.2M334.8 159v3.2" stroke="#1818f8" stroke-width="0.8" fill="none"/>
<rect x="220.4" y="86" width="119.2" height="113.7" fill="none" stroke="#777" stroke-width="0.8"/>
<line x1="217.4" y1="195.6" x2="220.4" y2="195.6" stroke="#777" stroke-width="0.7"/>
<text x="213.2" y="195.6" font-size="5.7" fill="#222" stroke="#222" stroke-width="0.07" text-anchor="middle" transform="rotate(-90 213.2 195.6)">0.0</text>
<line x1="217.4" y1="174.52" x2="220.4" y2="174.52" stroke="#777" stroke-width="0.7"/>
<text x="213.2" y="174.52" font-size="5.7" fill="#222" stroke="#222" stroke-width="0.07" text-anchor="middle" transform="rotate(-90 213.2 174.52)">0.2</text>
<line x1="217.4" y1="153.44" x2="220.4" y2="153.44" stroke="#777" stroke-width="0.7"/>
<text x="213.2" y="153.44" font-size="5.7" fill="#222" stroke="#222" stroke-width="0.07" text-anchor="middle" transform="rotate(-90 213.2 153.44)">0.4</text>
<line x1="217.4" y1="132.36" x2="220.4" y2="132.36" stroke="#777" stroke-width="0.7"/>
<text x="213.2" y="132.36" font-size="5.7" fill="#222" stroke="#222" stroke-width="0.07" text-anchor="middle" transform="rotate(-90 213.2 132.36)">0.6</text>
<line x1="217.4" y1="111.28" x2="220.4" y2="111.28" stroke="#777" stroke-width="0.7"/>
<text x="213.2" y="111.28" font-size="5.7" fill="#222" stroke="#222" stroke-width="0.07" text-anchor="middle" transform="rotate(-90 213.2 111.28)">0.8</text>
<line x1="217.4" y1="90.2" x2="220.4" y2="90.2" stroke="#777" stroke-width="0.7"/>
<text x="213.2" y="90.2" font-size="5.7" fill="#222" stroke="#222" stroke-width="0.07" text-anchor="middle" transform="rotate(-90 213.2 90.2)">1.0</text>
<line x1="220.4" y1="199.7" x2="220.4" y2="202.7" stroke="#777" stroke-width="0.7"/>
<text x="220.4" y="210.9" font-size="5.8" fill="#222" stroke="#222" stroke-width="0.07" text-anchor="middle">0</text>
<line x1="244.02" y1="199.7" x2="244.02" y2="202.7" stroke="#777" stroke-width="0.7"/>
<text x="244.02" y="210.9" font-size="5.8" fill="#222" stroke="#222" stroke-width="0.07" text-anchor="middle">50</text>
<line x1="267.64" y1="199.7" x2="267.64" y2="202.7" stroke="#777" stroke-width="0.7"/>
<text x="267.64" y="210.9" font-size="5.8" fill="#222" stroke="#222" stroke-width="0.07" text-anchor="middle">100</text>
<line x1="291.26" y1="199.7" x2="291.26" y2="202.7" stroke="#777" stroke-width="0.7"/>
<text x="291.26" y="210.9" font-size="5.8" fill="#222" stroke="#222" stroke-width="0.07" text-anchor="middle">150</text>
<line x1="314.88" y1="199.7" x2="314.88" y2="202.7" stroke="#777" stroke-width="0.7"/>
<text x="314.88" y="210.9" font-size="5.8" fill="#222" stroke="#222" stroke-width="0.07" text-anchor="middle">200</text>
<line x1="338.5" y1="199.7" x2="338.5" y2="202.7" stroke="#777" stroke-width="0.7"/>
<text x="338.5" y="210.9" font-size="5.8" fill="#222" stroke="#222" stroke-width="0.07" text-anchor="middle">250</text>
<text x="204" y="142.9" font-size="6.95" fill="#000" stroke="#000" stroke-width="0.05" text-anchor="middle" transform="rotate(-90 204 142.9)">Percent survival</text>
<text x="280" y="219.6" font-size="6.9" fill="#000" stroke="#000" stroke-width="0.05" text-anchor="middle">Months</text>
<line x1="285.1" y1="91.7" x2="294.4" y2="91.7" stroke="#3a3aff" stroke-width="1.1"/>
<line x1="285.1" y1="96.5" x2="294.4" y2="96.5" stroke="#ff3030" stroke-width="1.1"/>
<text transform="translate(296 93.5) scale(1.04 1)" font-size="4.8" fill="#000" text-anchor="start" font-weight="normal" stroke="#000" stroke-width="0.13">Low KIFC1 Group</text>
<text transform="translate(296 98.3) scale(1.04 1)" font-size="4.8" fill="#000" text-anchor="start" font-weight="normal" stroke="#000" stroke-width="0.13">High KIFC1 Group</text>
<text transform="translate(336.8 103.9) scale(1.04 1)" font-size="4.8" fill="#000" text-anchor="end" font-weight="normal" stroke="#000" stroke-width="0.13">Logrank p=0.0056</text>
<text transform="translate(336.8 109.6) scale(1.04 1)" font-size="4.8" fill="#000" text-anchor="end" font-weight="normal" stroke="#000" stroke-width="0.13">HR(high)=1.8</text>
<text x="224.6" y="182.2" font-size="7.6" fill="#ff0000" text-anchor="start" font-weight="normal" stroke="#ff0000" stroke-width="0.06">LUAD</text>
<polyline points="395.5,89.6 397.57,89.6 397.57,90.53 399.63,90.53 399.63,91.47 401.7,91.47 401.7,92.4 404.25,92.4 404.25,96.85 406.8,96.85 406.8,101.3 409.35,101.3 409.35,104.5 411.9,104.5 411.9,107.7 413.8,107.7 413.8,110.9 415.7,110.9 415.7,114.1 418.25,114.1 418.25,117.3 420.8,117.3 420.8,120.5 422.93,120.5 422.93,121.33 425.07,121.33 425.07,122.17 427.2,122.17 427.2,123 429.1,123 429.1,124.95 431,124.95 431,126.9 432.95,126.9 432.95,128.8 434.9,128.8 434.9,130.7 437.4,130.7 437.4,133.4 459.1,133.4 462.3,133.4 462.3,136 463,142.3 465.5,142.3 465.5,143.6 466.2,146.8 471.3,146.8 471.9,151.3 500.3,151.3 501.2,154.9 510.5,155.7" fill="none" stroke="#aaaaf8" stroke-width="0.55" stroke-opacity="0.8"/>
<polyline points="395.5,89.6 398.25,89.6 398.25,95.45 401,95.45 401,101.3 404.2,101.3 404.2,111.5 406.1,111.5 406.1,114.7 408,114.7 408,117.9 409.95,117.9 409.95,120.45 411.9,120.45 411.9,123 413.8,123 413.8,126.85 415.7,126.85 415.7,130.7 417.6,130.7 417.6,133.9 419.5,133.9 419.5,137.1 421.45,137.1 421.45,139 423.4,139 423.4,140.9 425.3,140.9 425.3,142.8 427.2,142.8 427.2,144.7 429.25,144.7 429.25,148.7 431.3,148.7 431.3,152.7 433.8,152.7 433.8,155.2 434.7,161.2 457.9,161.5 459.1,161.5 459.1,164 462,164 462,167.1 462.9,175 465.4,175 465.4,184.1 467.68,184.1 467.68,184.68 469.96,184.68 469.96,185.26 472.23,185.26 472.23,185.83 474.51,185.83 474.51,186.41 476.79,186.41 476.79,186.99 479.07,186.99 479.07,187.57 481.34,187.57 481.34,188.14 483.62,188.14 483.62,188.72 485.9,188.72 485.9,189.3 499.5,190.1 500.3,192.7 509.7,192.7" fill="none" stroke="#aaaaf8" stroke-width="0.55" stroke-opacity="0.8"/>
<polyline points="395.5,89.6 397.6,89.6 397.6,92.9 399.7,92.9 399.7,96.2 402.9,96.2 402.9,106.4 405.5,106.4 405.5,112.8 407.4,112.8 407.4,116 409.3,116 409.3,119.2 411.2,119.2 411.2,123.05 413.1,123.05 413.1,126.9 416.3,126.9 416.3,134.5 419.5,134.5 419.5,139.6 422.05,139.6 422.05,142.15 424.6,142.15 424.6,144.7 427.07,144.7 427.07,146.47 429.53,146.47 429.53,148.23 432,148.23 432,150 434,150 434,150.38 436,150.38 436,150.75 438,150.75 438,151.12 440,151.12 440,151.5 447.7,151.9 447.7,160.9 457.9,161.5 459.1,161.5 459.1,164 478.3,164 478.9,167.2 487.2,167.5 487.9,171.1" fill="none" stroke="#f8b0b0" stroke-width="0.55" stroke-opacity="0.8"/>
<polyline points="395.5,89.6 397.3,89.6 397.3,95.45 399.1,95.45 399.1,101.3 401.7,101.3 401.7,114.1 404.9,114.1 404.9,124.3 408,124.3 408,132 411.2,132 411.2,139.6 413.8,139.6 413.8,144.7 414.3,158.6 416.85,158.6 416.85,161.15 419.4,161.15 419.4,163.7 421.95,163.7 421.95,166.25 424.5,166.25 424.5,168.8 426.2,168.8 426.2,169.65 427.9,169.65 427.9,170.5 444.9,170.5 447.4,170.5 447.4,179 450,179 450,185.9 451.95,185.9 451.95,186.32 453.9,186.32 453.9,186.75 455.85,186.75 455.85,187.18 457.8,187.18 457.8,187.6 460.07,187.6 460.07,187.74 462.33,187.74 462.33,187.89 464.6,187.89 464.6,188.03 466.87,188.03 466.87,188.18 469.13,188.18 469.13,188.32 471.4,188.32 471.4,188.47 473.67,188.47 473.67,188.61 475.93,188.61 475.93,188.76 478.2,188.76 478.2,188.9 479,191.3 487.6,191.8 487.6,193.5" fill="none" stroke="#f8b0b0" stroke-width="0.55" stroke-opacity="0.8"/>
<polyline points="395.5,89.6 397,89.6 397,91.65 398.5,91.65 398.5,93.7 400.4,93.7 400.4,101.3 402.3,101.3 402.3,110.3 404.2,110.3 404.2,117.9 405.8,117.9 405.8,120.15 407.4,120.15 407.4,122.4 409.3,122.4 409.3,129.4 410.6,129.4 410.6,137.1 412.5,137.1 412.5,140.9 414.4,140.9 414.4,144.7 415.1,150.1 419.4,151 421.1,151 421.1,156.1 422.8,156.1 422.8,158.2 424.5,158.2 424.5,160.3 426.2,160.3 426.2,161.15 427.9,161.15 427.9,162 429.15,162 429.15,162.7 430.4,162.7 430.4,163.4 441.3,163.4 441.9,165.3 446.4,166 447.7,166 447.7,174.3 448.9,177.4 457.9,177.4 458.5,181.1 478.2,181.1 478.7,184.5 487.6,185 488.4,188.4 505.4,188.4 506.3,195.2" fill="none" stroke="#ff1010" stroke-width="1.0"/>
<polyline points="395.5,89.6 397.3,89.6 397.3,90.65 399.1,90.65 399.1,91.7 400.4,91.7 400.4,94.3 401.7,94.3 401.7,96.9 402.95,96.9 402.95,99.75 404.2,99.75 404.2,102.6 406.1,102.6 406.1,110.3 408,110.3 408,112.8 409.3,112.8 409.3,114.1 410.6,114.1 410.6,115.4 411.85,115.4 411.85,117.6 413.1,117.6 413.1,119.8 414.4,119.8 414.4,122.05 415.7,122.05 415.7,124.3 417.6,124.3 417.6,129.4 418.9,129.4 418.9,132.1 420.2,132.1 420.2,134.8 426.6,135.2 427.8,139 429.4,139 429.4,139.95 431,139.95 431,140.9 432.95,140.9 432.95,142.8 434.9,142.8 434.9,144.7 437.2,144.7 437.2,149.8 458.5,149.8 459.1,155.1 462.3,155.7 463,166.6 465.5,167.2 466.2,172.3 471.3,172.3 471.9,178.1 500.3,178.1 501.2,183.8 509.7,183.8" fill="none" stroke="#1818f8" stroke-width="1.0"/>
<path d="M427.9 160.4v3.2M435.5 161.8v3.2M445.9 164.32v3.2" stroke="#ff1010" stroke-width="0.8" fill="none"/>
<path d="M422.8 133.36v3.2M424.5 133.47v3.2M441.3 148.2v3.2M445.7 148.2v3.2M448.9 148.2v3.2M451.5 148.2v3.2M509.7 182.2v3.2" stroke="#1818f8" stroke-width="0.8" fill="none"/>
<rect x="395.5" y="86" width="118.9" height="113.7" fill="none" stroke="#777" stroke-width="0.8"/>
<line x1="392.5" y1="195.6" x2="395.5" y2="195.6" stroke="#777" stroke-width="0.7"/>
<text x="388.3" y="195.6" font-size="5.7" fill="#222" stroke="#222" stroke-width="0.07" text-anchor="middle" transform="rotate(-90 388.3 195.6)">0.0</text>
<line x1="392.5" y1="174.52" x2="395.5" y2="174.52" stroke="#777" stroke-width="0.7"/>
<text x="388.3" y="174.52" font-size="5.7" fill="#222" stroke="#222" stroke-width="0.07" text-anchor="middle" transform="rotate(-90 388.3 174.52)">0.2</text>
<line x1="392.5" y1="153.44" x2="395.5" y2="153.44" stroke="#777" stroke-width="0.7"/>
<text x="388.3" y="153.44" font-size="5.7" fill="#222" stroke="#222" stroke-width="0.07" text-anchor="middle" transform="rotate(-90 388.3 153.44)">0.4</text>
<line x1="392.5" y1="132.36" x2="395.5" y2="132.36" stroke="#777" stroke-width="0.7"/>
<text x="388.3" y="132.36" font-size="5.7" fill="#222" stroke="#222" stroke-width="0.07" text-anchor="middle" transform="rotate(-90 388.3 132.36)">0.6</text>
<line x1="392.5" y1="111.28" x2="395.5" y2="111.28" stroke="#777" stroke-width="0.7"/>
<text x="388.3" y="111.28" font-size="5.7" fill="#222" stroke="#222" stroke-width="0.07" text-anchor="middle" transform="rotate(-90 388.3 111.28)">0.8</text>
<line x1="392.5" y1="90.2" x2="395.5" y2="90.2" stroke="#777" stroke-width="0.7"/>
<text x="388.3" y="90.2" font-size="5.7" fill="#222" stroke="#222" stroke-width="0.07" text-anchor="middle" transform="rotate(-90 388.3 90.2)">1.0</text>
<line x1="395.5" y1="199.7" x2="395.5" y2="202.7" stroke="#777" stroke-width="0.7"/>
<text x="395.5" y="210.9" font-size="5.8" fill="#222" stroke="#222" stroke-width="0.07" text-anchor="middle">0</text>
<line x1="425.8" y1="199.7" x2="425.8" y2="202.7" stroke="#777" stroke-width="0.7"/>
<text x="425.8" y="210.9" font-size="5.8" fill="#222" stroke="#222" stroke-width="0.07" text-anchor="middle">100</text>
<line x1="456.1" y1="199.7" x2="456.1" y2="202.7" stroke="#777" stroke-width="0.7"/>
<text x="456.1" y="210.9" font-size="5.8" fill="#222" stroke="#222" stroke-width="0.07" text-anchor="middle">200</text>
<line x1="486.4" y1="199.7" x2="486.4" y2="202.7" stroke="#777" stroke-width="0.7"/>
<text x="486.4" y="210.9" font-size="5.8" fill="#222" stroke="#222" stroke-width="0.07" text-anchor="middle">300</text>
<text x="379.1" y="142.9" font-size="6.95" fill="#000" stroke="#000" stroke-width="0.05" text-anchor="middle" transform="rotate(-90 379.1 142.9)">Percent survival</text>
<text x="454.95" y="219.6" font-size="6.9" fill="#000" stroke="#000" stroke-width="0.05" text-anchor="middle">Months</text>
<line x1="460.2" y1="91.7" x2="469.5" y2="91.7" stroke="#3a3aff" stroke-width="1.1"/>
<line x1="460.2" y1="96.5" x2="469.5" y2="96.5" stroke="#ff3030" stroke-width="1.1"/>
<text transform="translate(471.1 93.5) scale(1.04 1)" font-size="4.8" fill="#000" text-anchor="start" font-weight="normal" stroke="#000" stroke-width="0.13">Low KIFC1 Group</text>
<text transform="translate(471.1 98.3) scale(1.04 1)" font-size="4.8" fill="#000" text-anchor="start" font-weight="normal" stroke="#000" stroke-width="0.13">High KIFC1 Group</text>
<text transform="translate(511.6 103.9) scale(1.04 1)" font-size="4.8" fill="#000" text-anchor="end" font-weight="normal" stroke="#000" stroke-width="0.13">Logrank p=0.0037</text>
<text transform="translate(511.6 109.6) scale(1.04 1)" font-size="4.8" fill="#000" text-anchor="end" font-weight="normal" stroke="#000" stroke-width="0.13">HR(high)=1.7</text>
<text x="399.7" y="182.2" font-size="7.6" fill="#ff0000" text-anchor="start" font-weight="normal" stroke="#ff0000" stroke-width="0.06">SKCM</text>
<polyline points="45.5,331.4 47.57,331.4 47.57,332.4 49.63,332.4 49.63,333.4 51.7,333.4 51.7,334.4 54.23,334.4 54.23,336.1 56.77,336.1 56.77,337.8 59.3,337.8 59.3,339.5 61.34,339.5 61.34,340 63.38,340 63.38,340.5 65.42,340.5 65.42,341 67.46,341 67.46,341.5 69.5,341.5 69.5,342 71.54,342 71.54,342.4 73.58,342.4 73.58,342.8 75.62,342.8 75.62,343.2 77.66,343.2 77.66,343.6 79.7,343.6 79.7,344 91.2,344.6 93.4,344.6 93.4,344.93 95.6,344.93 95.6,345.25 97.8,345.25 97.8,345.57 100,345.57 100,345.9 101.92,345.9 101.92,346.2 103.85,346.2 103.85,346.5 105.78,346.5 105.78,346.8 107.7,346.8 107.7,347.1 110.23,347.1 110.23,347.77 112.77,347.77 112.77,348.43 115.3,348.43 115.3,349.1 117.63,349.1 117.63,349.93 119.97,349.93 119.97,350.77 122.3,350.77 122.3,351.6 124.3,351.6 124.3,354.4 149.5,354.4" fill="none" stroke="#aaaaf8" stroke-width="0.55" stroke-opacity="0.8"/>
<polyline points="45.5,331.4 47.95,331.4 47.95,336.1 50.4,336.1 50.4,340.8 52.95,340.8 52.95,343.95 55.5,343.95 55.5,347.1 58.03,347.1 58.03,349.03 60.57,349.03 60.57,350.97 63.1,350.97 63.1,352.9 65.23,352.9 65.23,354.17 67.37,354.17 67.37,355.43 69.5,355.43 69.5,356.7 71.42,356.7 71.42,357.18 73.35,357.18 73.35,357.65 75.28,357.65 75.28,358.12 77.2,358.12 77.2,358.6 79.75,358.6 79.75,359.25 82.3,359.25 82.3,359.9 84.53,359.9 84.53,360.22 86.75,360.22 86.75,360.55 88.97,360.55 88.97,360.88 91.2,360.88 91.2,361.2 93.15,361.2 93.15,362.15 95.1,362.15 95.1,363.1 100,364 102.55,364 102.55,365.15 105.1,365.15 105.1,366.3 107.7,366.3 107.7,370.1 109.6,370.1 109.6,371.4 111.5,371.4 111.5,372.7 122.3,373.3 123,381.6 123.9,393.2 149.5,393.5" fill="none" stroke="#aaaaf8" stroke-width="0.55" stroke-opacity="0.8"/>
<polyline points="45.5,331.4 47.3,331.4 47.3,334.8 49.1,334.8 49.1,338.2 51.65,338.2 51.65,342.05 54.2,342.05 54.2,345.9 56.33,345.9 56.33,347.37 58.47,347.37 58.47,348.83 60.6,348.83 60.6,350.3 63.15,350.3 63.15,351.9 65.7,351.9 65.7,353.5 67.83,353.5 67.83,354.13 69.97,354.13 69.97,354.77 72.1,354.77 72.1,355.4 74.14,355.4 74.14,355.74 76.18,355.74 76.18,356.08 78.22,356.08 78.22,356.42 80.26,356.42 80.26,356.76 82.3,356.76 82.3,357.1 95.1,357.6 97.55,357.6 97.55,358.8 100,358.8 100,360 101.8,360 101.8,363.1 159.7,363.1" fill="none" stroke="#f8b0b0" stroke-width="0.55" stroke-opacity="0.8"/>
<polyline points="45.5,331.4 47.8,331.4 47.8,343.3 49.75,343.3 49.75,349.05 51.7,349.05 51.7,354.8 53.6,354.8 53.6,357.35 55.5,357.35 55.5,359.9 58.05,359.9 58.05,361.8 60.6,361.8 60.6,363.7 62.73,363.7 62.73,365.83 64.87,365.83 64.87,367.97 67,367.97 67,370.1 69.55,370.1 69.55,372.65 72.1,372.65 72.1,375.2 74.63,375.2 74.63,375.87 77.17,375.87 77.17,376.53 79.7,376.53 79.7,377.2 96.3,377.8 97,381.6 101.8,382.3 102.7,394.4 159.7,394.4" fill="none" stroke="#f8b0b0" stroke-width="0.55" stroke-opacity="0.8"/>
<polyline points="45.5,331.4 47.2,331.4 47.2,336.9 48.45,336.9 48.45,340.75 49.7,340.75 49.7,344.6 51.3,344.6 51.3,347.8 52.9,347.8 52.9,351 54.5,351 54.5,353.2 56.1,353.2 56.1,355.4 57.6,355.4 57.6,356.07 59.1,356.07 59.1,356.73 60.6,356.73 60.6,357.4 62.2,357.4 62.2,359.6 63.8,359.6 63.8,361.8 65.4,361.8 65.4,363.1 67,363.1 67,364.4 68.9,364.4 68.9,365.65 70.8,365.65 70.8,366.9 72.55,366.9 72.55,367.4 74.3,367.4 74.3,367.9 76.05,367.9 76.05,368.4 77.8,368.4 77.8,368.9 95.1,368.9 97,368.9 97,371.4 100.8,372.2 101.5,372.2 101.9,381 160.4,381" fill="none" stroke="#ff1010" stroke-width="1.0"/>
<polyline points="45.5,331.4 47.3,331.4 47.3,333.55 49.1,333.55 49.1,335.7 51,335.7 51,337.9 52.9,337.9 52.9,340.1 54.85,340.1 54.85,342.05 56.8,342.05 56.8,344 58.7,344 58.7,345.55 60.6,345.55 60.6,347.1 65.7,347.4 67,347.4 67,348.55 68.3,348.55 68.3,349.7 77.2,350.3 78.45,350.3 78.45,351.4 79.7,351.4 79.7,352.5 91.2,352.5 93.1,352.5 93.1,354.4 102.6,354.4 103.2,356.7 105.1,357.4 105.7,359.3 108.3,359.9 108.9,362.5 111.5,363.1 112.1,365.7 122.3,365.7 123,370.1 123.6,374.6 124.9,374.6 124.9,377 151.1,377" fill="none" stroke="#1818f8" stroke-width="1.0"/>
<path d="M77.9 367.3v3.2M80 367.3v3.2M82.3 367.3v3.2M85 367.3v3.2M87 367.3v3.2M89 367.3v3.2M91 367.3v3.2M93 367.3v3.2M105.7 379.4v3.2M108.3 379.4v3.2M116 379.4v3.2M128.1 379.4v3.2M134.5 379.4v3.2M140.9 379.4v3.2M147.9 379.4v3.2M159.7 379.4v3.2" stroke="#ff1010" stroke-width="0.8" fill="none"/>
<path d="M62.6 345.62v3.2M65.5 345.79v3.2M71.1 348.29v3.2M73.7 348.46v3.2M76.2 348.63v3.2M81.3 350.9v3.2M84.7 350.9v3.2M88.1 350.9v3.2M102.7 353.18v3.2M116.6 364.1v3.2M119.1 364.1v3.2M136.4 375.4v3.2M140.9 375.4v3.2M146.6 375.4v3.2M151.1 375.4v3.2" stroke="#1818f8" stroke-width="0.8" fill="none"/>
<rect x="45.5" y="327.7" width="118.9" height="113.5" fill="none" stroke="#777" stroke-width="0.8"/>
<line x1="42.5" y1="436.9" x2="45.5" y2="436.9" stroke="#777" stroke-width="0.7"/>
<text x="38.3" y="436.9" font-size="5.7" fill="#222" stroke="#222" stroke-width="0.07" text-anchor="middle" transform="rotate(-90 38.3 436.9)">0.0</text>
<line x1="42.5" y1="415.82" x2="45.5" y2="415.82" stroke="#777" stroke-width="0.7"/>
<text x="38.3" y="415.82" font-size="5.7" fill="#222" stroke="#222" stroke-width="0.07" text-anchor="middle" transform="rotate(-90 38.3 415.82)">0.2</text>
<line x1="42.5" y1="394.74" x2="45.5" y2="394.74" stroke="#777" stroke-width="0.7"/>
<text x="38.3" y="394.74" font-size="5.7" fill="#222" stroke="#222" stroke-width="0.07" text-anchor="middle" transform="rotate(-90 38.3 394.74)">0.4</text>
<line x1="42.5" y1="373.66" x2="45.5" y2="373.66" stroke="#777" stroke-width="0.7"/>
<text x="38.3" y="373.66" font-size="5.7" fill="#222" stroke="#222" stroke-width="0.07" text-anchor="middle" transform="rotate(-90 38.3 373.66)">0.6</text>
<line x1="42.5" y1="352.58" x2="45.5" y2="352.58" stroke="#777" stroke-width="0.7"/>
<text x="38.3" y="352.58" font-size="5.7" fill="#222" stroke="#222" stroke-width="0.07" text-anchor="middle" transform="rotate(-90 38.3 352.58)">0.8</text>
<line x1="42.5" y1="331.5" x2="45.5" y2="331.5" stroke="#777" stroke-width="0.7"/>
<text x="38.3" y="331.5" font-size="5.7" fill="#222" stroke="#222" stroke-width="0.07" text-anchor="middle" transform="rotate(-90 38.3 331.5)">1.0</text>
<line x1="45.5" y1="441.2" x2="45.5" y2="444.2" stroke="#777" stroke-width="0.7"/>
<text x="45.5" y="452.4" font-size="5.8" fill="#222" stroke="#222" stroke-width="0.07" text-anchor="middle">0</text>
<line x1="62.37" y1="441.2" x2="62.37" y2="444.2" stroke="#777" stroke-width="0.7"/>
<text x="62.37" y="452.4" font-size="5.8" fill="#222" stroke="#222" stroke-width="0.07" text-anchor="middle">20</text>
<line x1="79.24" y1="441.2" x2="79.24" y2="444.2" stroke="#777" stroke-width="0.7"/>
<text x="79.24" y="452.4" font-size="5.8" fill="#222" stroke="#222" stroke-width="0.07" text-anchor="middle">40</text>
<line x1="96.11" y1="441.2" x2="96.11" y2="444.2" stroke="#777" stroke-width="0.7"/>
<text x="96.11" y="452.4" font-size="5.8" fill="#222" stroke="#222" stroke-width="0.07" text-anchor="middle">60</text>
<line x1="112.99" y1="441.2" x2="112.99" y2="444.2" stroke="#777" stroke-width="0.7"/>
<text x="112.99" y="452.4" font-size="5.8" fill="#222" stroke="#222" stroke-width="0.07" text-anchor="middle">80</text>
<line x1="129.86" y1="441.2" x2="129.86" y2="444.2" stroke="#777" stroke-width="0.7"/>
<text x="129.86" y="452.4" font-size="5.8" fill="#222" stroke="#222" stroke-width="0.07" text-anchor="middle">100</text>
<line x1="146.73" y1="441.2" x2="146.73" y2="444.2" stroke="#777" stroke-width="0.7"/>
<text x="146.73" y="452.4" font-size="5.8" fill="#222" stroke="#222" stroke-width="0.07" text-anchor="middle">120</text>
<line x1="163.6" y1="441.2" x2="163.6" y2="444.2" stroke="#777" stroke-width="0.7"/>
<text x="163.6" y="452.4" font-size="5.8" fill="#222" stroke="#222" stroke-width="0.07" text-anchor="middle">140</text>
<text x="29.1" y="384.2" font-size="6.95" fill="#000" stroke="#000" stroke-width="0.05" text-anchor="middle" transform="rotate(-90 29.1 384.2)">Percent survival</text>
<text x="104.95" y="460.9" font-size="6.9" fill="#000" stroke="#000" stroke-width="0.05" text-anchor="middle">Months</text>
<line x1="110.2" y1="333" x2="119.5" y2="333" stroke="#3a3aff" stroke-width="1.1"/>
<line x1="110.2" y1="337.6" x2="119.5" y2="337.6" stroke="#ff3030" stroke-width="1.1"/>
<text transform="translate(121.1 334.8) scale(1.04 1)" font-size="4.8" fill="#000" text-anchor="start" font-weight="normal" stroke="#000" stroke-width="0.13">Low KIFC1 Group</text>
<text transform="translate(121.1 339.4) scale(1.04 1)" font-size="4.8" fill="#000" text-anchor="start" font-weight="normal" stroke="#000" stroke-width="0.13">High KIFC1 Group</text>
<text transform="translate(161.6 345.8) scale(1.04 1)" font-size="4.8" fill="#000" text-anchor="end" font-weight="normal" stroke="#000" stroke-width="0.13">Logrank p=0.01</text>
<text transform="translate(161.6 351.5) scale(1.04 1)" font-size="4.8" fill="#000" text-anchor="end" font-weight="normal" stroke="#000" stroke-width="0.13">HR(high)=1.9</text>
<text x="49.7" y="424.3" font-size="7.6" fill="#ff0000" text-anchor="start" font-weight="normal" stroke="#ff0000" stroke-width="0.06">KIRC</text>
<polyline points="220.5,331.4 228.2,332.5 230.24,332.5 230.24,333 232.28,333 232.28,333.5 234.32,333.5 234.32,334 236.36,334 236.36,334.5 238.4,334.5 238.4,335 240.65,335 240.65,335.8 242.9,335.8 242.9,336.6 245.15,336.6 245.15,337.4 247.4,337.4 247.4,338.2 249.5,338.2 249.5,338.83 251.6,338.83 251.6,339.47 253.7,339.47 253.7,340.1 255.83,340.1 255.83,340.73 257.97,340.73 257.97,341.37 260.1,341.37 260.1,342 262.65,342 262.65,342.65 265.2,342.65 265.2,343.3 334.8,343.3" fill="none" stroke="#aaaaf8" stroke-width="0.55" stroke-opacity="0.8"/>
<polyline points="220.5,331.4 223.1,331.4 223.1,333.55 225.7,333.55 225.7,335.7 227.8,335.7 227.8,337.4 229.9,337.4 229.9,339.1 232,339.1 232,340.8 234.13,340.8 234.13,342.9 236.27,342.9 236.27,345 238.4,345 238.4,347.1 240.95,347.1 240.95,349.7 243.5,349.7 243.5,352.3 246.05,352.3 246.05,354.85 248.6,354.85 248.6,357.4 251.15,357.4 251.15,359 253.7,359 253.7,360.6 255.83,360.6 255.83,361.23 257.97,361.23 257.97,361.87 260.1,361.87 260.1,362.5 262.05,362.5 262.05,364.4 264,364.4 264,366.3 265.2,368 334.8,368" fill="none" stroke="#aaaaf8" stroke-width="0.55" stroke-opacity="0.8"/>
<polyline points="220.5,331.4 222.45,331.4 222.45,333.55 224.4,333.55 224.4,335.7 226.3,335.7 226.3,339.5 228.2,339.5 228.2,343.3 230.75,343.3 230.75,345.2 233.3,345.2 233.3,347.1 235.85,347.1 235.85,349.05 238.4,349.05 238.4,351 240.95,351 240.95,352.9 243.5,352.9 243.5,354.8 246.05,354.8 246.05,356.7 248.6,356.7 248.6,358.6 250.53,358.6 250.53,359.25 252.45,359.25 252.45,359.9 254.38,359.9 254.38,360.55 256.3,360.55 256.3,361.2 258.85,361.2 258.85,362.45 261.4,362.45 261.4,363.7 264,363.7 264,365 277.8,365.1 279.5,365.1 279.5,368.5 282.05,368.5 282.05,369.35 284.6,369.35 284.6,370.2 286.3,370.2 286.3,374.5 288.8,374.5 288.8,377.9 314.4,377.9" fill="none" stroke="#f8b0b0" stroke-width="0.55" stroke-opacity="0.8"/>
<polyline points="220.5,331.4 223.7,331.4 223.7,343.3 225.7,343.3 225.7,349.1 227.6,349.1 227.6,351.95 229.5,351.95 229.5,354.8 232.05,354.8 232.05,358 234.6,358 234.6,361.2 236.73,361.2 236.73,362.9 238.87,362.9 238.87,364.6 241,364.6 241,366.3 243.55,366.3 243.55,368.85 246.1,368.85 246.1,371.4 248.65,371.4 248.65,372.7 251.2,372.7 251.2,374 255.7,375.2 257.6,375.2 257.6,381.6 258.9,381.6 258.9,386.7 260.6,386.7 260.6,393.5 276.1,393.9 276.9,400.3 280.3,400.3 281.2,407.1 286.3,407.1 287.1,420.7 313.5,420.7" fill="none" stroke="#f8b0b0" stroke-width="0.55" stroke-opacity="0.8"/>
<polyline points="220.5,331.4 221.8,331.4 221.8,334.8 223.1,334.8 223.1,338.2 224.4,338.2 224.4,341.4 225.7,341.4 225.7,344.6 226.95,344.6 226.95,345.85 228.2,345.85 228.2,347.1 229.5,347.1 229.5,348.7 230.8,348.7 230.8,350.3 232.05,350.3 232.05,351.9 233.3,351.9 233.3,353.5 234.9,353.5 234.9,355.1 236.5,355.1 236.5,356.7 238.4,356.7 238.4,358.95 240.3,358.95 240.3,361.2 241.6,361.2 241.6,362.45 242.9,362.45 242.9,363.7 244.4,363.7 244.4,364.37 245.9,364.37 245.9,365.03 247.4,365.03 247.4,365.7 251.2,366.9 255.7,366.9 257.6,366.9 257.6,370.8 258.9,370.8 258.9,373.3 260.1,373.3 260.1,380.6 276.9,380.6 277.8,385.5 279.05,385.5 279.05,386.35 280.3,386.35 280.3,387.2 280.3,392.5 286.3,392.5 287.1,398.6 288,405.4 313.5,405.4" fill="none" stroke="#ff1010" stroke-width="1.0"/>
<polyline points="220.5,331.4 222.23,331.4 222.23,331.97 223.97,331.97 223.97,332.53 225.7,332.53 225.7,333.1 227.4,333.1 227.4,333.97 229.1,333.97 229.1,334.83 230.8,334.83 230.8,335.7 234.6,336.9 238.4,337.2 240.3,337.2 240.3,339.5 241.9,339.5 241.9,340.45 243.5,340.45 243.5,341.4 245.45,341.4 245.45,342.35 247.4,342.35 247.4,343.3 249.3,343.3 249.3,345.2 251.2,345.2 251.2,347.1 253.1,347.1 253.1,348.7 255,348.7 255,350.3 256.3,350.3 256.3,351.3 257.6,351.3 257.6,352.3 263.3,352.3 265.2,352.3 265.2,356.7 334.8,356.7" fill="none" stroke="#1818f8" stroke-width="1.0"/>
<path d="M249.6 364.79v3.2M252 365.3v3.2M255.5 365.3v3.2M264.9 379v3.2M267.4 379v3.2M270.1 379v3.2M275.2 379v3.2M297.3 403.8v3.2M310.1 403.8v3.2M313.5 403.8v3.2" stroke="#ff1010" stroke-width="0.8" fill="none"/>
<path d="M256.4 349.78v3.2M261.5 350.7v3.2M268.4 355.1v3.2M270.1 355.1v3.2M272.7 355.1v3.2M275.2 355.1v3.2M286.3 355.1v3.2M291.4 355.1v3.2M304.1 355.1v3.2M334.8 355.1v3.2" stroke="#1818f8" stroke-width="0.8" fill="none"/>
<rect x="220.4" y="327.7" width="119.2" height="113.5" fill="none" stroke="#777" stroke-width="0.8"/>
<line x1="217.4" y1="436.9" x2="220.4" y2="436.9" stroke="#777" stroke-width="0.7"/>
<text x="213.2" y="436.9" font-size="5.7" fill="#222" stroke="#222" stroke-width="0.07" text-anchor="middle" transform="rotate(-90 213.2 436.9)">0.0</text>
<line x1="217.4" y1="415.82" x2="220.4" y2="415.82" stroke="#777" stroke-width="0.7"/>
<text x="213.2" y="415.82" font-size="5.7" fill="#222" stroke="#222" stroke-width="0.07" text-anchor="middle" transform="rotate(-90 213.2 415.82)">0.2</text>
<line x1="217.4" y1="394.74" x2="220.4" y2="394.74" stroke="#777" stroke-width="0.7"/>
<text x="213.2" y="394.74" font-size="5.7" fill="#222" stroke="#222" stroke-width="0.07" text-anchor="middle" transform="rotate(-90 213.2 394.74)">0.4</text>
<line x1="217.4" y1="373.66" x2="220.4" y2="373.66" stroke="#777" stroke-width="0.7"/>
<text x="213.2" y="373.66" font-size="5.7" fill="#222" stroke="#222" stroke-width="0.07" text-anchor="middle" transform="rotate(-90 213.2 373.66)">0.6</text>
<line x1="217.4" y1="352.58" x2="220.4" y2="352.58" stroke="#777" stroke-width="0.7"/>
<text x="213.2" y="352.58" font-size="5.7" fill="#222" stroke="#222" stroke-width="0.07" text-anchor="middle" transform="rotate(-90 213.2 352.58)">0.8</text>
<line x1="217.4" y1="331.5" x2="220.4" y2="331.5" stroke="#777" stroke-width="0.7"/>
<text x="213.2" y="331.5" font-size="5.7" fill="#222" stroke="#222" stroke-width="0.07" text-anchor="middle" transform="rotate(-90 213.2 331.5)">1.0</text>
<line x1="220.5" y1="441.2" x2="220.5" y2="444.2" stroke="#777" stroke-width="0.7"/>
<text x="220.5" y="452.4" font-size="5.8" fill="#222" stroke="#222" stroke-width="0.07" text-anchor="middle">0</text>
<line x1="236.61" y1="441.2" x2="236.61" y2="444.2" stroke="#777" stroke-width="0.7"/>
<text x="236.61" y="452.4" font-size="5.8" fill="#222" stroke="#222" stroke-width="0.07" text-anchor="middle">20</text>
<line x1="252.73" y1="441.2" x2="252.73" y2="444.2" stroke="#777" stroke-width="0.7"/>
<text x="252.73" y="452.4" font-size="5.8" fill="#222" stroke="#222" stroke-width="0.07" text-anchor="middle">40</text>
<line x1="268.84" y1="441.2" x2="268.84" y2="444.2" stroke="#777" stroke-width="0.7"/>
<text x="268.84" y="452.4" font-size="5.8" fill="#222" stroke="#222" stroke-width="0.07" text-anchor="middle">60</text>
<line x1="284.96" y1="441.2" x2="284.96" y2="444.2" stroke="#777" stroke-width="0.7"/>
<text x="284.96" y="452.4" font-size="5.8" fill="#222" stroke="#222" stroke-width="0.07" text-anchor="middle">80</text>
<line x1="301.07" y1="441.2" x2="301.07" y2="444.2" stroke="#777" stroke-width="0.7"/>
<text x="301.07" y="452.4" font-size="5.8" fill="#222" stroke="#222" stroke-width="0.07" text-anchor="middle">100</text>
<line x1="317.19" y1="441.2" x2="317.19" y2="444.2" stroke="#777" stroke-width="0.7"/>
<text x="317.19" y="452.4" font-size="5.8" fill="#222" stroke="#222" stroke-width="0.07" text-anchor="middle">120</text>
<line x1="333.3" y1="441.2" x2="333.3" y2="444.2" stroke="#777" stroke-width="0.7"/>
<text x="333.3" y="452.4" font-size="5.8" fill="#222" stroke="#222" stroke-width="0.07" text-anchor="middle">140</text>
<text x="204" y="384.2" font-size="6.95" fill="#000" stroke="#000" stroke-width="0.05" text-anchor="middle" transform="rotate(-90 204 384.2)">Percent survival</text>
<text x="280" y="460.9" font-size="6.9" fill="#000" stroke="#000" stroke-width="0.05" text-anchor="middle">Months</text>
<line x1="285.1" y1="333" x2="294.4" y2="333" stroke="#3a3aff" stroke-width="1.1"/>
<line x1="285.1" y1="337.6" x2="294.4" y2="337.6" stroke="#ff3030" stroke-width="1.1"/>
<text transform="translate(296 334.8) scale(1.04 1)" font-size="4.8" fill="#000" text-anchor="start" font-weight="normal" stroke="#000" stroke-width="0.13">Low KIFC1 Group</text>
<text transform="translate(296 339.4) scale(1.04 1)" font-size="4.8" fill="#000" text-anchor="start" font-weight="normal" stroke="#000" stroke-width="0.13">High KIFC1 Group</text>
<text transform="translate(336.8 345.8) scale(1.04 1)" font-size="4.8" fill="#000" text-anchor="end" font-weight="normal" stroke="#000" stroke-width="0.13">Logrank p=8.1e&#8722;05</text>
<text transform="translate(336.8 351.5) scale(1.04 1)" font-size="4.8" fill="#000" text-anchor="end" font-weight="normal" stroke="#000" stroke-width="0.13">HR(high)=3</text>
<text x="224.6" y="424.3" font-size="7.6" fill="#ff0000" text-anchor="start" font-weight="normal" stroke="#ff0000" stroke-width="0.06">PRAD</text>
<polyline points="395.5,331.4 397.3,331.4 397.3,332.9 399.1,332.9 399.1,334.4 401.7,334.4 401.7,340.1 404.9,340.1 404.9,344.6 408,344.6 408,348.4 416.3,348.4 417.6,348.4 417.6,351 425.9,351.6 427.8,351.6 427.8,354.8 431,354.8 431,356.1 442.5,356.7 444.4,356.7 444.4,358.3 446.3,358.3 446.3,359.9 448.9,359.9 448.9,366.1 508.8,366.1" fill="none" stroke="#aaaaf8" stroke-width="0.55" stroke-opacity="0.8"/>
<polyline points="395.5,331.4 398.5,331.4 398.5,342.7 401,342.7 401,352.3 403.6,352.3 403.6,359.3 404.9,359.3 404.9,365 406.8,365 406.8,367.6 408,370 410.55,370 410.55,372.55 413.1,372.55 413.1,375.1 415.7,375.1 415.7,376.4 418.3,376.4 418.3,377.7 420.52,377.7 420.52,378.65 422.75,378.65 422.75,379.6 424.98,379.6 424.98,380.55 427.2,380.55 427.2,381.5 429.1,381.5 429.1,384.05 431,384.05 431,386.6 442.5,386.6 443.8,386.6 443.8,393.6 447.6,393.6 448.3,405.5 509.7,405.5" fill="none" stroke="#aaaaf8" stroke-width="0.55" stroke-opacity="0.8"/>
<polyline points="395.5,331.4 397.8,331.4 397.8,339.5 399.7,339.5 399.7,345.9 402.3,345.9 402.3,352.9 404.2,352.9 404.2,359.9 406.8,359.9 406.8,366.3 408.7,366.3 408.7,369.5 410.6,369.5 410.6,372.7 413.15,372.7 413.15,374.6 415.7,374.6 415.7,376.5 417.6,376.5 417.6,377.8 419.5,377.8 419.5,379.1 421.4,379.1 421.4,380.9 503.7,380.9" fill="none" stroke="#f8b0b0" stroke-width="0.55" stroke-opacity="0.8"/>
<polyline points="395.5,331.4 396.8,331.4 396.8,347.1 398.5,347.1 398.5,356.1 401,356.1 401,363.7 402.9,363.7 402.9,370.1 404.9,370.1 404.9,380 408,380 408,391.7 410.6,391.7 410.6,398.1 412.5,398.1 412.5,400.65 414.4,400.65 414.4,403.2 417,403.2 417,407 420.2,407 420.2,410.9 503.7,410.9" fill="none" stroke="#f8b0b0" stroke-width="0.55" stroke-opacity="0.8"/>
<polyline points="395.5,331.4 396.3,336.9 397.8,336.9 397.8,349.1 399.7,350.3 401,350.3 401,353.5 402.3,353.5 402.3,361.2 404.2,361.2 404.2,368.9 405.5,368.9 405.5,376.5 406.75,376.5 406.75,380.25 408,380.25 408,384 409.95,384 409.95,387.2 411.9,387.2 411.9,390.4 413.37,390.4 413.37,391.47 414.83,391.47 414.83,392.53 416.3,392.53 416.3,393.6 417.9,393.6 417.9,394.55 419.5,394.55 419.5,395.5 420.8,395.5 420.8,398.7 503.7,398.7" fill="none" stroke="#ff1010" stroke-width="1.0"/>
<polyline points="395.5,331.4 397.8,331.8 398.5,337.6 400.4,337.6 400.4,342 402.3,342 402.3,348.4 404.2,348.4 404.2,354.8 405.5,354.8 405.5,356.7 406.8,356.7 406.8,358.6 408.7,358.6 408.7,361.8 415.1,361.8 416.35,361.8 416.35,363.75 417.6,363.75 417.6,365.7 420.8,366.3 425.3,366.3 427.2,366.3 427.2,369.5 428.8,369.5 428.8,370.45 430.4,370.45 430.4,371.4 431.7,371.4 431.7,373.8 442.5,373.8 443.8,373.8 443.8,379.1 447,379.4 448.3,379.4 448.3,389.6 509.7,389.6" fill="none" stroke="#1818f8" stroke-width="1.0"/>
<path d="M419.4 393.84v3.2M433 397.1v3.2M441.5 397.1v3.2M445.7 397.1v3.2M448.4 397.1v3.2M457.3 397.1v3.2M503.7 397.1v3.2" stroke="#ff1010" stroke-width="0.8" fill="none"/>
<path d="M410.9 360.2v3.2M414.3 360.2v3.2M421.1 364.7v3.2M422.8 364.7v3.2M433 372.2v3.2M434.7 372.2v3.2M451.8 388v3.2M456.9 388v3.2M463.7 388v3.2M473.1 388v3.2M484.1 388v3.2M509.7 388v3.2" stroke="#1818f8" stroke-width="0.8" fill="none"/>
<rect x="395.5" y="327.7" width="118.9" height="113.5" fill="none" stroke="#777" stroke-width="0.8"/>
<line x1="392.5" y1="436.9" x2="395.5" y2="436.9" stroke="#777" stroke-width="0.7"/>
<text x="388.3" y="436.9" font-size="5.7" fill="#222" stroke="#222" stroke-width="0.07" text-anchor="middle" transform="rotate(-90 388.3 436.9)">0.0</text>
<line x1="392.5" y1="415.82" x2="395.5" y2="415.82" stroke="#777" stroke-width="0.7"/>
<text x="388.3" y="415.82" font-size="5.7" fill="#222" stroke="#222" stroke-width="0.07" text-anchor="middle" transform="rotate(-90 388.3 415.82)">0.2</text>
<line x1="392.5" y1="394.74" x2="395.5" y2="394.74" stroke="#777" stroke-width="0.7"/>
<text x="388.3" y="394.74" font-size="5.7" fill="#222" stroke="#222" stroke-width="0.07" text-anchor="middle" transform="rotate(-90 388.3 394.74)">0.4</text>
<line x1="392.5" y1="373.66" x2="395.5" y2="373.66" stroke="#777" stroke-width="0.7"/>
<text x="388.3" y="373.66" font-size="5.7" fill="#222" stroke="#222" stroke-width="0.07" text-anchor="middle" transform="rotate(-90 388.3 373.66)">0.6</text>
<line x1="392.5" y1="352.58" x2="395.5" y2="352.58" stroke="#777" stroke-width="0.7"/>
<text x="388.3" y="352.58" font-size="5.7" fill="#222" stroke="#222" stroke-width="0.07" text-anchor="middle" transform="rotate(-90 388.3 352.58)">0.8</text>
<line x1="392.5" y1="331.5" x2="395.5" y2="331.5" stroke="#777" stroke-width="0.7"/>
<text x="388.3" y="331.5" font-size="5.7" fill="#222" stroke="#222" stroke-width="0.07" text-anchor="middle" transform="rotate(-90 388.3 331.5)">1.0</text>
<line x1="395.5" y1="441.2" x2="395.5" y2="444.2" stroke="#777" stroke-width="0.7"/>
<text x="395.5" y="452.4" font-size="5.8" fill="#222" stroke="#222" stroke-width="0.07" text-anchor="middle">0</text>
<line x1="430.73" y1="441.2" x2="430.73" y2="444.2" stroke="#777" stroke-width="0.7"/>
<text x="430.73" y="452.4" font-size="5.8" fill="#222" stroke="#222" stroke-width="0.07" text-anchor="middle">50</text>
<line x1="465.97" y1="441.2" x2="465.97" y2="444.2" stroke="#777" stroke-width="0.7"/>
<text x="465.97" y="452.4" font-size="5.8" fill="#222" stroke="#222" stroke-width="0.07" text-anchor="middle">100</text>
<line x1="501.2" y1="441.2" x2="501.2" y2="444.2" stroke="#777" stroke-width="0.7"/>
<text x="501.2" y="452.4" font-size="5.8" fill="#222" stroke="#222" stroke-width="0.07" text-anchor="middle">150</text>
<text x="379.1" y="384.2" font-size="6.95" fill="#000" stroke="#000" stroke-width="0.05" text-anchor="middle" transform="rotate(-90 379.1 384.2)">Percent survival</text>
<text x="454.95" y="460.9" font-size="6.9" fill="#000" stroke="#000" stroke-width="0.05" text-anchor="middle">Months</text>
<line x1="460.2" y1="333" x2="469.5" y2="333" stroke="#3a3aff" stroke-width="1.1"/>
<line x1="460.2" y1="337.6" x2="469.5" y2="337.6" stroke="#ff3030" stroke-width="1.1"/>
<text transform="translate(471.1 334.8) scale(1.04 1)" font-size="4.8" fill="#000" text-anchor="start" font-weight="normal" stroke="#000" stroke-width="0.13">Low KIFC1 Group</text>
<text transform="translate(471.1 339.4) scale(1.04 1)" font-size="4.8" fill="#000" text-anchor="start" font-weight="normal" stroke="#000" stroke-width="0.13">High KIFC1 Group</text>
<text transform="translate(511.6 345.8) scale(1.04 1)" font-size="4.8" fill="#000" text-anchor="end" font-weight="normal" stroke="#000" stroke-width="0.13">Logrank p=0.011</text>
<text transform="translate(511.6 351.5) scale(1.04 1)" font-size="4.8" fill="#000" text-anchor="end" font-weight="normal" stroke="#000" stroke-width="0.13">HR(high)=2</text>
<text x="399.7" y="424.3" font-size="7.6" fill="#ff0000" text-anchor="start" font-weight="normal" stroke="#ff0000" stroke-width="0.06">SARC</text>
</svg>
</body></html>
